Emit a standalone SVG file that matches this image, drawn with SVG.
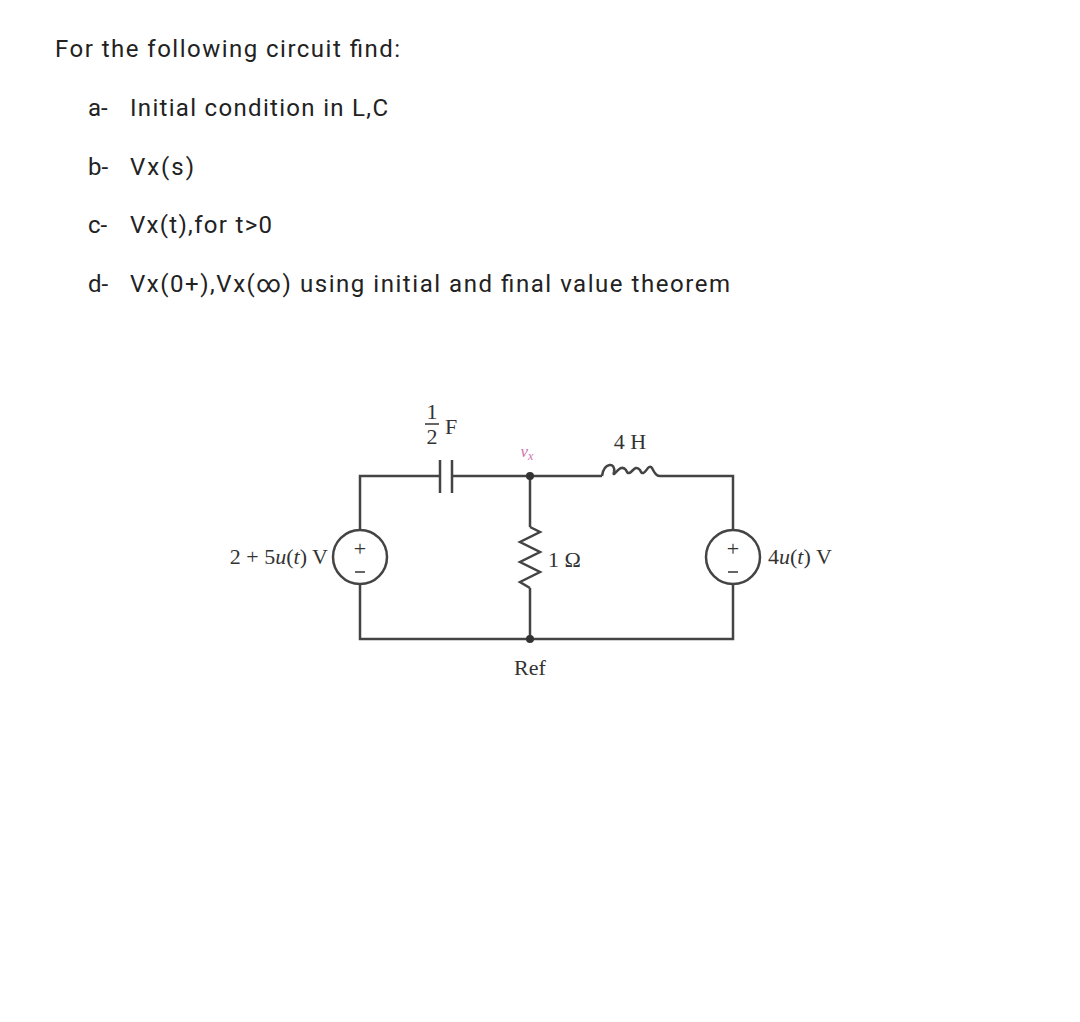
<svg xmlns="http://www.w3.org/2000/svg" width="1080" height="1022" viewBox="0 0 1080 1022">
<style>
.q{font-family:Roboto,"Liberation Sans",sans-serif;font-size:24px;fill:#222}
.c{font-family:"Liberation Serif",serif;font-size:22px;fill:#333}
.w{fill:none;stroke:#444;stroke-width:2.5}
</style>
<rect width="1080" height="1022" fill="#fff"/>
<g id="question">
<text class="q" x="55" y="57" textLength="345">For the following circuit find:</text>
<text class="q" x="88" y="116">a-</text><text class="q" x="130" y="116" textLength="258">Initial condition in L,C</text>
<text class="q" x="88" y="175">b-</text><text class="q" x="130" y="175" textLength="64">Vx(s)</text>
<text class="q" x="88" y="233">c-</text><text class="q" x="130" y="233" textLength="142">Vx(t),for t&gt;0</text>
<text class="q" x="88" y="292">d-</text><text class="q" x="130" y="292" textLength="600">Vx(0+),Vx(∞) using initial and final value theorem</text>
</g>
<g id="connectors">
<path class="w" d="M360 530V476H440M452 476H602M660 476H733V530M733 585V639H360V585M530 476V527M530 588V639"/>
</g>
<g id="capacitor">
<path class="w" d="M440 460V493M452 460V493"/>
<text class="c" x="432" y="419" text-anchor="middle" font-size="18">1</text>
<line x1="425" y1="424" x2="439" y2="424" stroke="#333" stroke-width="1.5"/>
<text class="c" x="432" y="444" text-anchor="middle" font-size="18">2</text>
<text class="c" x="445" y="434" font-size="18">F</text>
</g>
<g id="inductor">
<path class="w" d="M602 476C604 462 616 462 614 472C612 480 620 462 626 470C630 480 634 462 640 470C644 480 648 462 652 468C656 476 658 476 660 476"/>
<text class="c" x="630" y="449" text-anchor="middle">4 H</text>
</g>
<g id="resistor">
<path class="w" d="M530 527L540 532L520 542L540 552L520 562L540 572L520 582L530 588"/>
<text class="c" x="548" y="567">1 Ω</text>
</g>
<g id="node-vx">
<circle cx="530" cy="476" r="4" fill="#333"/>
<text x="527" y="457" font-family="Liberation Serif,serif" font-style="italic" font-size="17" fill="#d070b0" text-anchor="middle">v<tspan font-size="12" dy="3">x</tspan></text>
</g>
<g id="node-ref">
<circle cx="530" cy="639" r="4" fill="#333"/>
<text class="c" x="530" y="675" text-anchor="middle">Ref</text>
</g>
<g id="source-left">
<circle class="w" cx="360" cy="557" r="27"/>
<text class="c" x="360" y="556" text-anchor="middle" font-size="18">+</text>
<line x1="355" y1="572" x2="365" y2="572" stroke="#333" stroke-width="1.5"/>
<text class="c" x="328" y="564" text-anchor="end">2 + 5<tspan font-style="italic">u</tspan>(<tspan font-style="italic">t</tspan>) V</text>
</g>
<g id="source-right">
<circle class="w" cx="733" cy="557" r="27"/>
<text class="c" x="733" y="556" text-anchor="middle" font-size="18">+</text>
<line x1="728" y1="572" x2="738" y2="572" stroke="#333" stroke-width="1.5"/>
<text class="c" x="768" y="564">4<tspan font-style="italic">u</tspan>(<tspan font-style="italic">t</tspan>) V</text>
</g>
</svg>
